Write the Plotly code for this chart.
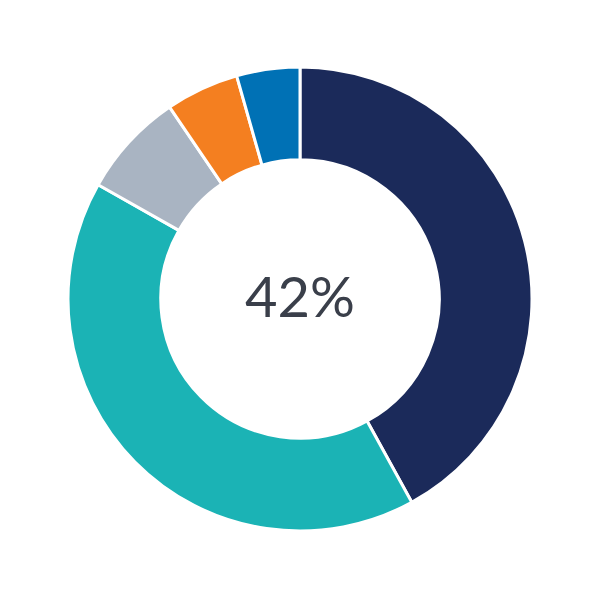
import plotly.graph_objects as go

# slice labels and shares (clockwise from 12 o'clock)
labels = ["Navy", "Teal", "Gray", "Orange", "Blue"]
values = [42, 41.2, 7.3, 5.1, 4.4]
colors = ["#1b2a5a", "#1bb3b5", "#a9b4c2", "#f47f20", "#0071b5"]
center_text = "42%"

fig = go.Figure(go.Pie(
    labels=labels,
    values=values,
    hole=0.6,
    sort=False,
    direction="clockwise",
    rotation=0,
    marker=dict(colors=colors, line=dict(color="white", width=3)),
    textinfo="none",
    hoverinfo="label+percent",
    showlegend=False,
))

fig.add_annotation(
    text=center_text, x=0.5, y=0.5, xref="paper", yref="paper",
    showarrow=False, yshift=4,
    font=dict(family="Lato", size=56, color="#3a3f4a"),
)

# page body adds an 8px offset, so shift the plot area up/left
fig.update_layout(
    width=600, height=600,
    margin=dict(l=60, r=76, t=59, b=77),
    paper_bgcolor="white",
    plot_bgcolor="white",
)

fig.write_html("out.html")
